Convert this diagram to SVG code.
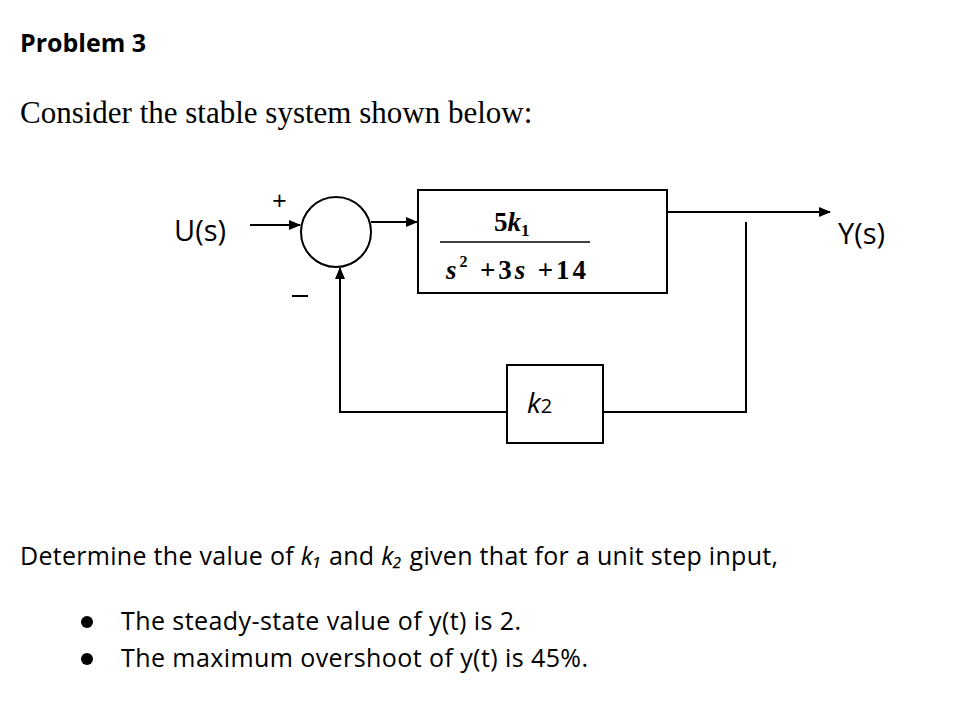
<svg xmlns="http://www.w3.org/2000/svg" width="953" height="705" viewBox="0 0 953 705">
<defs>
<marker id="ah" markerWidth="12" markerHeight="10" refX="11" refY="5" orient="auto" markerUnits="userSpaceOnUse"><path d="M0,0 L12,5 L0,10 Z" fill="#000"/></marker>
<style>
.l{stroke:#000;stroke-width:2;fill:none}
.c{font-family:"Open Sans","Liberation Sans",sans-serif;fill:#000}
.m{font-family:"Liberation Serif",serif;font-weight:bold;fill:#000}
</style>
</defs>
<rect width="953" height="705" fill="#fff"/>
<text class="c" x="20" y="52" font-size="25" font-weight="bold">Problem 3</text>
<text x="20" y="123" font-family="Liberation Serif,serif" font-size="31">Consider the stable system shown below:</text>
<text class="c" x="174" y="241" font-size="29">U(s)</text>
<text class="c" x="838" y="244" font-size="29">Y(s)</text>
<text class="c" x="272" y="210" font-size="26">+</text>
<line x1="292" y1="296" x2="308" y2="296" class="l"/>
<g id="sum"><circle cx="336" cy="232" r="35" class="l"/></g>
<g id="G"><rect x="418" y="190" width="249" height="103" class="l"/>
<text class="m" x="494" y="231" font-size="27">5<tspan font-style="italic">k</tspan><tspan font-size="17" dy="5">1</tspan></text>
<line x1="440" y1="242" x2="590" y2="242" stroke="#000" stroke-width="1.5"/>
<text class="m" x="446" y="279" font-size="27" textLength="140"><tspan font-style="italic">s</tspan><tspan font-size="16" dy="-12">2</tspan><tspan dy="12"> +3</tspan><tspan font-style="italic">s</tspan> +14</text>
</g>
<g id="H"><rect x="507" y="365" width="96" height="78" class="l"/>
<text class="c" x="527" y="413" font-size="28" font-style="italic">k<tspan font-size="20" font-style="normal">2</tspan></text></g>
<g id="connectors">
<line x1="250" y1="225" x2="300" y2="225" class="l" marker-end="url(#ah)"/>
<line x1="371" y1="222" x2="417" y2="222" class="l" marker-end="url(#ah)"/>
<line x1="667" y1="212" x2="830" y2="212" class="l" marker-end="url(#ah)"/>
<polyline points="746,222 746,412 603,412" class="l"/>
<polyline points="507,412 340,412 340,268" class="l" marker-end="url(#ah)"/>
</g>
<text class="c" x="20" y="565" font-size="25" textLength="758">Determine the value of <tspan font-style="italic">k₁</tspan> and <tspan font-style="italic">k₂</tspan> given that for a unit step input,</text>
<circle cx="87" cy="622" r="6" fill="#000"/>
<circle cx="87" cy="659" r="6" fill="#000"/>
<text class="c" x="121" y="630" font-size="25" textLength="400">The steady-state value of y(t) is 2.</text>
<text class="c" x="121" y="667" font-size="25" textLength="467">The maximum overshoot of y(t) is 45%.</text>
</svg>
